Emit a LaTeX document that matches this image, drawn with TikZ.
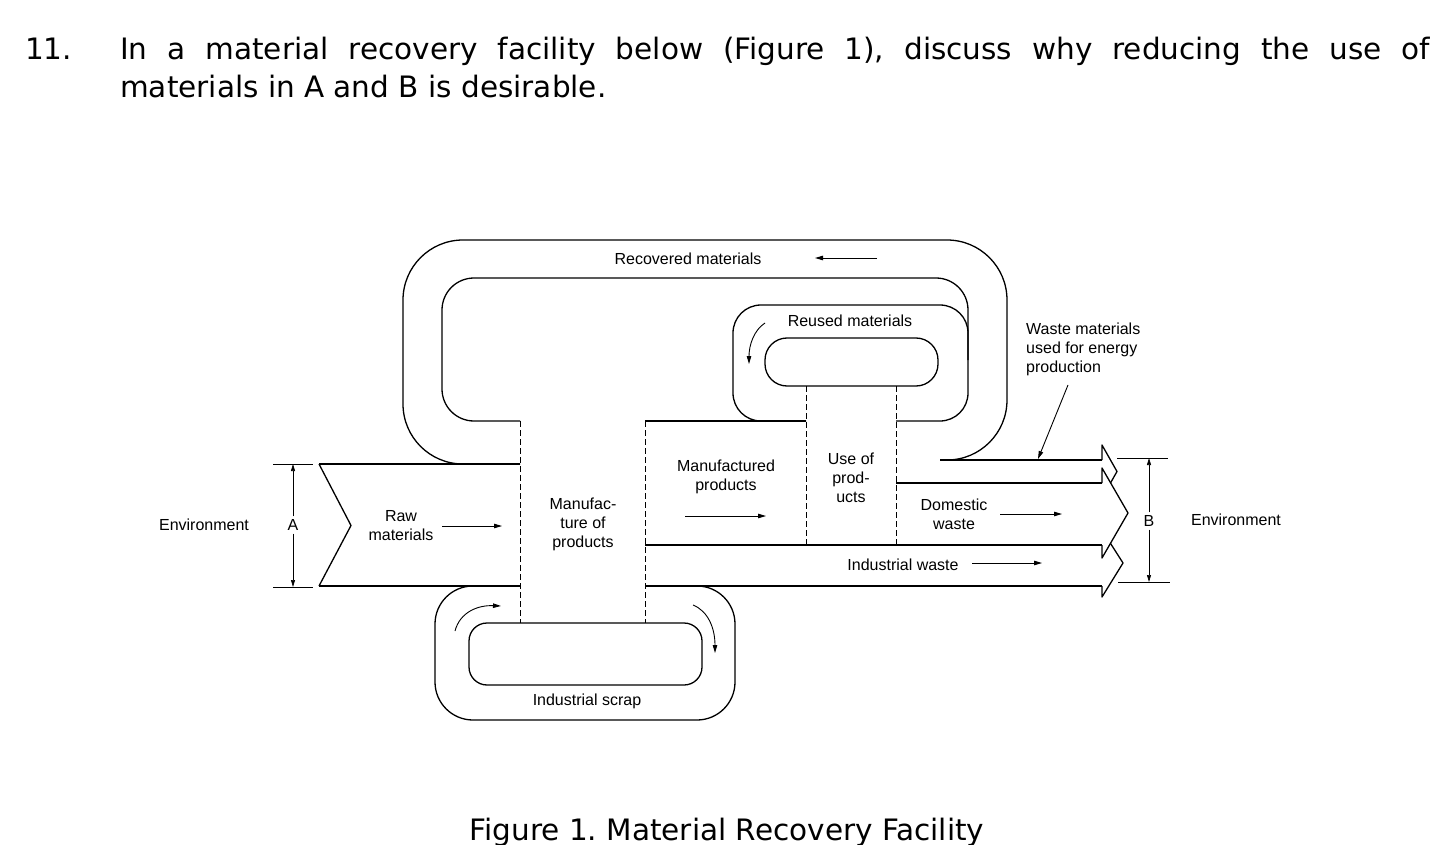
\documentclass[tikz,border=0pt]{standalone}
\usepackage{fontspec}
\setmainfont{Liberation Sans}
\newfontfamily\hdrfont{DejaVu Sans}
\usetikzlibrary{arrows.meta}
\frenchspacing
\begin{document}
\begin{tikzpicture}[x=1pt,y=-1pt,
  outline/.style={line width=1.3pt, line join=round},
  cut/.style={line width=0.8pt, dash pattern=on 5.5pt off 3.5pt},
  flow/.style={line width=0.9pt, -{Triangle[length=8pt,width=4.5pt]}},
  dim/.style={line width=0.7pt},
  dimtip/.style={line width=0.7pt, -{Triangle[length=7pt,width=4pt]}},
  lbl/.style={font=\fontsize{16}{19}\selectfont, align=center, inner sep=0pt},
  hdr/.style={font=\hdrfont\fontsize{29.5}{38}\selectfont, inner sep=0pt},
]
\fill[white] (0,0) rectangle (1449,845);
\useasboundingbox (0,0) rectangle (1449,845);

% ---------- header and caption ----------
\node[hdr, anchor=base west] (num) at (25,60) {11.};
\node[hdr, anchor=base west] (q1) at (120,60) {\makebox[1310pt][s]{In a material recovery facility below (Figure 1), discuss why reducing the use of}};
\node[hdr, anchor=base west] (q2) at (120,98) {materials in A and B is desirable.};
\node[hdr, anchor=base] (cap) at (727,840) {Figure 1. Material Recovery Facility};

% ---------- raw material band ----------
\draw[outline] (319,464) -- (351,525.5) -- (319,586);
\draw[outline] (319,464) -- (520,464);
\draw[outline] (319,586) -- (520,586);

% ---------- recovered materials loop ----------
\draw[outline, rounded corners=60] (520,464) -- (403,464) -- (403,240) -- (1007,240) -- (1007,460) -- (940,460);
\draw[outline, rounded corners=32] (520,421) -- (442,421) -- (442,278) -- (968,278) -- (968,360);

% ---------- reused materials loop ----------
\draw[outline, rounded corners=28] (806,421) -- (733,421) -- (733,305) -- (968,305) -- (968,421) -- (896,421);
\draw[outline] (645,421) -- (806,421);
\draw[outline, rounded corners=22] (765,338) rectangle (938,386);

% ---------- industrial scrap loop ----------
\draw[outline, rounded corners=38] (520,586) -- (435,586) -- (435,720) -- (735,720) -- (735,586) -- (645,586);
\draw[outline, rounded corners=18] (469,623) rectangle (702,685);

% ---------- output streams ----------
\draw[outline] (940,460) -- (1102,460);
\draw[outline] (896,483) -- (1102,483);
\draw[outline] (645,545) -- (1102,545);
\draw[outline] (645,586) -- (1102,586);

% arrow heads (energy, industrial, then domestic on top)
\fill[white] (1102,445) -- (1117,471.5) -- (1102,498) -- cycle;
\draw[outline] (1102,460) -- (1102,445) -- (1117,471.5) -- (1106.5,490);
\fill[white] (1102,530) -- (1123,563) -- (1102,597) -- cycle;
\draw[outline] (1104,533.2) -- (1123,563) -- (1102,597) -- (1102,586);
\fill[white] (1102,468) -- (1128,513) -- (1102,558) -- cycle;
\draw[outline] (1102,483) -- (1102,468) -- (1128,513) -- (1102,558) -- (1102,545);

% ---------- process boundaries ----------
\draw[cut] (520,421) -- (520,623);
\draw[cut] (645,421) -- (645,623);
\draw[cut] (806,386) -- (806,545);
\draw[cut] (896,386) -- (896,545);

% ---------- labels ----------
\node[lbl] (envL) at (204,525) {Environment};
\node[lbl] (raw) at (401,526) {Raw\\materials};
\node[lbl] (manu) at (583,524) {Manufac-\\ture of\\products};
\node[lbl] (mprod) at (726,477) {Manufactured\\products};
\node[lbl] (use) at (851,478) {Use of\\prod-\\ucts};
\node[lbl] (dom) at (954,514) {Domestic\\waste};
\node[lbl] (indw) at (903,565) {Industrial waste};
\node[lbl] (rec) at (688,259) {Recovered materials};
\node[lbl] (reu) at (850,321) {Reused materials};
\node[lbl, align=left, anchor=west] (wen) at (1026,349) {Waste materials\\used for energy\\production};
\node[lbl] (scrap) at (587,701) {Industrial scrap};
\node[lbl] (envR) at (1236,520) {Environment};

% ---------- flow arrows ----------
\coordinate (rawS) at (442,526); \coordinate (rawE) at (502,526);
\draw[flow] (rawS) -- (rawE);
\coordinate (mpS) at (685,516); \coordinate (mpE) at (766,516);
\draw[flow] (mpS) -- (mpE);
\coordinate (dwS) at (1000,514); \coordinate (dwE) at (1062,514);
\draw[flow] (dwS) -- (dwE);
\coordinate (iwS) at (972,563); \coordinate (iwE) at (1042,563);
\draw[flow] (iwS) -- (iwE);
\coordinate (rmS) at (877,258); \coordinate (rmE) at (815,258);
\draw[flow] (rmS) -- (rmE);
\coordinate (enS) at (1068,385); \coordinate (enE) at (1038,459);
\draw[flow] (enS) -- (enE);
\coordinate (ruS) at (765,323); \coordinate (ruE) at (749,364);
\draw[flow] (ruS) .. controls (754,330) and (749,345) .. (ruE);
\coordinate (scS) at (455,631); \coordinate (scE) at (501,606);
\draw[flow] (scS) .. controls (460,612) and (478,605) .. (scE);
\coordinate (sc2S) at (693,605); \coordinate (sc2E) at (715,653);
\draw[flow] (sc2S) .. controls (708,611) and (715,628) .. (sc2E);

% ---------- dimensions A and B ----------
\draw[dim] (273,464) -- (313,464);
\draw[dim] (273,587) -- (313,587);
\node[lbl, inner sep=3pt] (A) at (293,525) {A};
\coordinate (Atop) at (293,464); \coordinate (Abot) at (293,587);
\draw[dimtip] (A.north) -- (Atop);
\draw[dimtip] (A.south) -- (Abot);

\draw[dim] (1117,458) -- (1168,458);
\draw[dim] (1118,582) -- (1170,582);
\node[lbl, inner sep=3pt] (B) at (1149,521) {B};
\coordinate (Btop) at (1149,458); \coordinate (Bbot) at (1149,582);
\draw[dimtip] (B.north) -- (Btop);
\draw[dimtip] (B.south) -- (Bbot);
\end{tikzpicture}
\end{document}
